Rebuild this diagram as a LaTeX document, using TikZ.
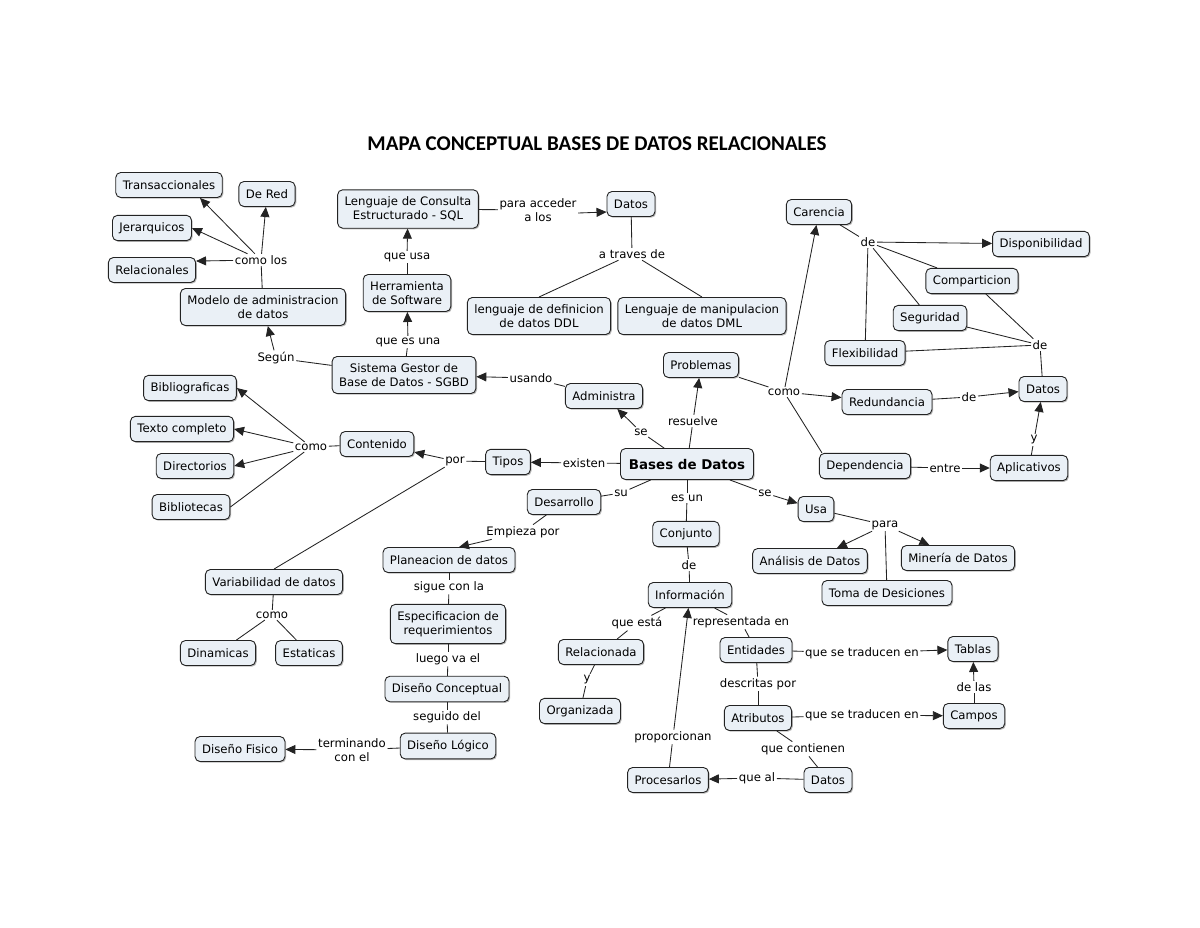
\documentclass[tikz,border=0pt]{standalone}
\usepackage{fontspec}
\setmainfont{DejaVu Sans}
\newfontfamily\titlefont{Carlito}
\usetikzlibrary{arrows.meta,shadows,calc}
\definecolor{boxfill}{RGB}{234,240,246}
\definecolor{linec}{RGB}{35,35,35}
\tikzset{
  box/.style={draw=linec, line width=0.9pt, fill=boxfill, rounded corners=5pt,
    inner xsep=7pt, inner ysep=7pt, minimum height=25pt, align=center,
    font=\fontsize{11.7}{14}\selectfont,
    drop shadow={shadow xshift=1.2pt, shadow yshift=-1.2pt, fill=black!45, opacity=0.6}},
  mainbox/.style={box, font=\bfseries\fontsize{13.4}{16}\selectfont, minimum height=31pt, inner xsep=8.5pt},
  lab/.style={inner sep=1.5pt, align=center, font=\fontsize{11.7}{14}\selectfont},
  con/.style={draw=linec, line width=0.85pt},
  arr/.style={con, -{Triangle[length=10pt,width=9pt]}},
}
\begin{document}
\begin{tikzpicture}[x=1pt,y=-1pt]
\fill[white] (0,0) rectangle (1200,927);
\useasboundingbox (0,0) rectangle (1200,927);

\node[font=\titlefont\bfseries\fontsize{21}{24}\selectfont] (title) at (597,144) {MAPA CONCEPTUAL BASES DE DATOS RELACIONALES};

% concept boxes
\node[box] (trans) at (169,185) {Transaccionales};
\node[box] (dered) at (267,194) {De Red};
\node[box] (jer) at (152,228) {Jerarquicos};
\node[box] (rel) at (152,270) {Relacionales};
\node[box] (modelo) at (263,307) {Modelo de administracion\\de datos};
\node[box] (sql) at (408,209) {Lenguaje de Consulta\\Estructurado - SQL};
\node[box] (herr) at (407,293) {Herramienta\\de Software};
\node[box] (sgbd) at (404,375) {Sistema Gestor de\\Base de Datos - SGBD};
\node[box] (datos1) at (631,204) {Datos};
\node[box] (ddl) at (539,316) {lenguaje de definicion\\de datos DDL};
\node[box] (dml) at (702,316) {Lenguaje de manipulacion\\de datos DML};
\node[box] (carencia) at (819,212) {Carencia};
\node[box] (disp) at (1041,244) {Disponibilidad};
\node[box] (comp) at (972,281) {Comparticion};
\node[box] (seg) at (930,318) {Seguridad};
\node[box] (flex) at (865,353) {Flexibilidad};
\node[box] (datos2) at (1043,389) {Datos};
\node[box] (redun) at (887,402) {Redundancia};
\node[box] (dep) at (865,466) {Dependencia};
\node[box] (apli) at (1029,468) {Aplicativos};
\node[box] (prob) at (701,365) {Problemas};
\node[box] (admin) at (604,396) {Administra};
\node[mainbox] (bases) at (687,464) {Bases de Datos};
\node[box] (tipos) at (508,462) {Tipos};
\node[box] (cont) at (377,444) {Contenido};
\node[box] (biblio) at (190,388) {Bibliograficas};
\node[box] (texto) at (182,429) {Texto completo};
\node[box] (dir) at (195,466) {Directorios};
\node[box] (bibliot) at (191,507) {Bibliotecas};
\node[box] (desa) at (564,502) {Desarrollo};
\node[box] (conj) at (686,534) {Conjunto};
\node[box] (usa) at (816,509) {Usa};
\node[box] (anal) at (810,561) {Análisis de Datos};
\node[box] (mine) at (958,558) {Minería de Datos};
\node[box] (toma) at (887,593) {Toma de Desiciones};
\node[box] (plan) at (449,560) {Planeacion de datos};
\node[box] (var) at (274,582) {Variabilidad de datos};
\node[box] (din) at (218,653) {Dinamicas};
\node[box] (est) at (309,653) {Estaticas};
\node[box] (espec) at (448,624) {Especificacion de\\requerimientos};
\node[box] (conc) at (447,689) {Diseño Conceptual};
\node[box] (logi) at (448,746) {Diseño Lógico};
\node[box] (fis) at (240,749) {Diseño Fisico};
\node[box] (info) at (690,595) {Información};
\node[box] (relac) at (601,652) {Relacionada};
\node[box] (org) at (580,711) {Organizada};
\node[box] (ent) at (756,650) {Entidades};
\node[box] (atr) at (758,718) {Atributos};
\node[box] (proc) at (668,780) {Procesarlos};
\node[box] (datos3) at (828,780) {Datos};
\node[box] (tablas) at (973,649) {Tablas};
\node[box] (campos) at (974,716) {Campos};

% linking phrases
\node[lab] (lcomolos) at (261,260) {como los};
\node[lab] (lqueusa) at (407,257) {que usa};
\node[lab] (lqueesuna) at (408,342) {que es una};
\node[lab] (lsegun) at (276,358) {Según};
\node[lab] (lpara) at (538,210) {para acceder\\a los};
\node[lab] (ltraves) at (632,254) {a traves de};
\node[lab] (lusando) at (531,378) {usando};
\node[lab] (lresuelve) at (693,421) {resuelve};
\node[lab] (lse1) at (641,432) {se};
\node[lab] (lcomo2) at (784,392) {como};
\node[lab] (lde1) at (868,242) {de};
\node[lab] (lde2) at (1040,345) {de};
\node[lab] (lde3) at (969,397) {de};
\node[lab] (ly1) at (1034,440) {y};
\node[lab] (lentre) at (945,468) {entre};
\node[lab] (lexisten) at (584,463) {existen};
\node[lab] (lpor) at (455,461) {por};
\node[lab] (lcomo1) at (311,447) {como};
\node[lab] (lsu) at (621,493) {su};
\node[lab] (lesun) at (687,498) {es un};
\node[lab] (lse2) at (765,493) {se};
\node[lab] (lpara2) at (885,525) {para};
\node[lab] (lempieza) at (523,532) {Empieza por};
\node[lab] (lsigue) at (449,587) {sigue con la};
\node[lab] (lluego) at (448,659) {luego va el};
\node[lab] (lseguido) at (447,717) {seguido del};
\node[lab] (ltermin) at (352,750) {terminando\\con el};
\node[lab] (lcomo3) at (272,615) {como};
\node[lab] (lde4) at (689,565) {de};
\node[lab] (lqueesta) at (637,623) {que está};
\node[lab] (lrepres) at (741,622) {representada en};
\node[lab] (ly2) at (587,680) {y};
\node[lab] (ldescr) at (758,684) {descritas por};
\node[lab] (ltrad1) at (862,653) {que se traducen en};
\node[lab] (ltrad2) at (862,715) {que se traducen en};
\node[lab] (ldelas) at (974,687) {de las};
\node[lab] (lcontienen) at (803,749) {que contienen};
\node[lab] (lproporc) at (673,737) {proporcionan};
\node[lab] (lqueal) at (757,778) {que al};

% connectors
\draw[con] (modelo) -- (lcomolos);
\draw[arr] (lcomolos) -- ([xshift=31pt]trans.south);
\draw[arr] (lcomolos) -- (dered);
\draw[arr] (lcomolos) -- (jer.east);
\draw[arr] (lcomolos) -- ([yshift=-4pt]rel.north east);
\draw[con] (sgbd) -- (lsegun);
\draw[arr] (lsegun) -- (modelo);
\draw[con] (sgbd) -- (lqueesuna);
\draw[arr] (lqueesuna) -- (herr);
\draw[con] (herr) -- (lqueusa);
\draw[arr] (lqueusa) -- (sql);
\draw[con] (sql) -- (lpara);
\draw[arr] ([yshift=-3pt]lpara.east) -- ([yshift=-8pt]datos1.west);
\draw[con] (datos1) -- (ltraves);
\draw[con] (ltraves) -- (ddl.north);
\draw[con] (ltraves) -- (dml.north);
\draw[con] (admin) -- (lusando);
\draw[arr] (lusando) -- (sgbd);
\draw[con] (bases) -- (lse1);
\draw[arr] (lse1) -- (admin);
\draw[con] (bases) -- (lresuelve);
\draw[arr] (lresuelve) -- (prob);
\draw[con] (prob) -- (lcomo2);
\draw[arr] (lcomo2) -- (carencia);
\draw[arr] (lcomo2) -- (redun);
\draw[con] (lcomo2) -- ([xshift=3pt]dep.north west);
\draw[con] (carencia) -- (lde1);
\draw[arr] (lde1) -- (disp);
\draw[con] (lde1) -- (comp);
\draw[con] (lde1) -- (seg);
\draw[con] (lde1) -- (flex);
\draw[con] (comp) -- (lde2);
\draw[con] (seg) -- (lde2);
\draw[con] (flex) -- (lde2);
\draw[con] (lde2) -- (datos2);
\draw[con] (redun) -- (lde3);
\draw[arr] (lde3) -- (datos2);
\draw[con] (dep) -- (lentre);
\draw[arr] (lentre) -- (apli);
\draw[con] (apli) -- (ly1);
\draw[arr] (ly1) -- (datos2);
\draw[con] (bases) -- (lexisten);
\draw[arr] (lexisten) -- (tipos);
\draw[con] (tipos) -- (lpor);
\draw[arr] (lpor) -- (cont);
\draw[con] (lpor) -- (var.north);
\draw[con] (cont) -- (lcomo1);
\draw[arr] (lcomo1) -- (biblio.east);
\draw[arr] (lcomo1) -- (texto.east);
\draw[arr] (lcomo1) -- (dir.east);
\draw[con] (lcomo1) -- (bibliot.east);
\draw[con] (var) -- (lcomo3);
\draw[con] (lcomo3) -- (din);
\draw[con] (lcomo3) -- (est);
\draw[con] (bases) -- (lsu);
\draw[con] (lsu) -- (desa);
\draw[con] (desa) -- (lempieza);
\draw[arr] (lempieza) -- ([xshift=10pt]plan.north);
\draw[con] (plan) -- (lsigue);
\draw[con] (lsigue) -- (espec);
\draw[con] (espec) -- (lluego);
\draw[con] (lluego) -- (conc);
\draw[con] (conc) -- (lseguido);
\draw[con] (lseguido) -- (logi);
\draw[con] (logi) -- (ltermin);
\draw[arr] (ltermin) -- (fis);
\draw[con] (bases) -- (lesun);
\draw[con] (lesun) -- (conj);
\draw[con] (conj) -- (lde4);
\draw[con] (lde4) -- (info);
\draw[con] (info) -- (lqueesta);
\draw[con] (lqueesta) -- (relac);
\draw[con] (relac) -- (ly2);
\draw[con] (ly2) -- (org);
\draw[con] (info) -- (lrepres);
\draw[con] (lrepres) -- (ent);
\draw[con] (ent) -- (ldescr);
\draw[con] (ldescr) -- (atr);
\draw[con] (ent) -- (ltrad1);
\draw[arr] (ltrad1) -- (tablas);
\draw[con] (atr) -- (ltrad2);
\draw[arr] (ltrad2) -- (campos);
\draw[con] (campos) -- (ldelas);
\draw[arr] (ldelas) -- (tablas);
\draw[con] (atr) -- (lcontienen);
\draw[con] (lcontienen) -- (datos3);
\draw[con] (datos3) -- (lqueal);
\draw[arr] (lqueal) -- (proc);
\draw[con] (proc) -- (lproporc);
\draw[arr] (lproporc) -- (info);
\draw[con] (bases) -- (lse2);
\draw[arr] (lse2) -- (usa);
\draw[con] (usa) -- (lpara2);
\draw[arr] (lpara2) -- (anal);
\draw[arr] (lpara2) -- (mine);
\draw[con] (lpara2) -- (toma);
\end{tikzpicture}
\end{document}
